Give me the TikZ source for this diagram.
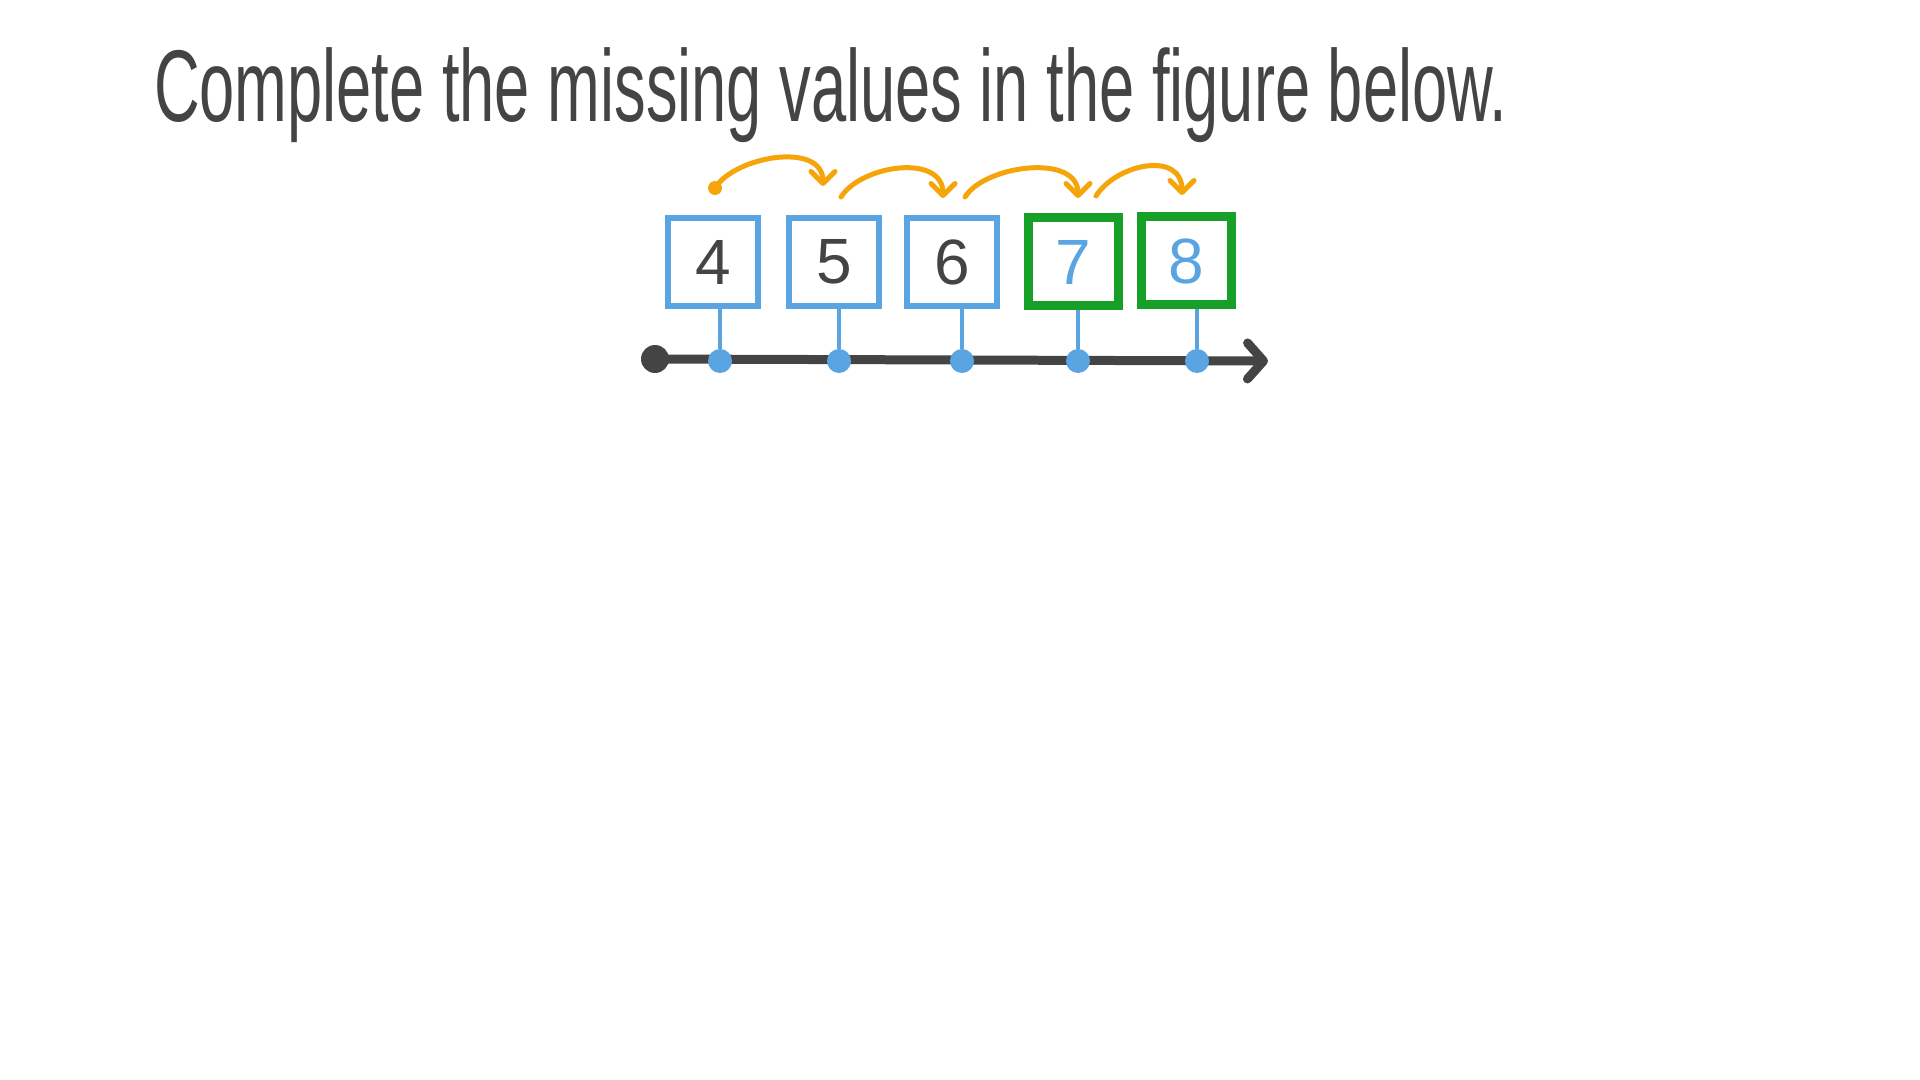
\documentclass[tikz,border=0pt]{standalone}
\usepackage{fontspec}
\setmainfont{Liberation Sans}
\usetikzlibrary{arrows.meta}
\definecolor{penblue}{RGB}{90,165,225}
\definecolor{pengreen}{RGB}{22,160,40}
\definecolor{penorange}{RGB}{245,165,10}
\definecolor{pengray}{RGB}{68,68,68}

\begin{document}
\begin{tikzpicture}[x=0.5pt,y=-0.5pt]
        \tikzstyle{every node}=[font=\fontsize{32}{38}\selectfont]
        \tikzstyle{numbox}=[draw=penblue,line width=3pt,minimum width=45pt,minimum height=44pt,inner sep=0pt,text=pengray]
        \tikzstyle{ansbox}=[numbox,draw=pengreen,line width=4.5pt,text=penblue]
        \tikzstyle{tick}=[circle,fill=penblue,minimum size=12pt,inner sep=0pt]
        \tikzstyle{hop}=[penorange,line width=2.5pt,line cap=round,-{Straight Barb[length=6pt,width=12pt,round]}]
        \useasboundingbox (0,0) rectangle (1920,1080);

        \node[anchor=base west,text=pengray,font=\fontsize{51}{60}\selectfont] (title) at (147,122)
            {\scalebox{0.62}[1]{Complete the missing values in the figure below.}};

        % boxes
        \node[numbox] (b4) at (713,262) {4};
        \node[numbox] (b5) at (834,262) {5};
        \node[numbox] (b6) at (952,262) {6};
        \node[ansbox] (b7) at (1073,262) {7};
        \node[ansbox] (b8) at (1186,261) {8};

        % number line
        \node[circle,fill=pengray,minimum size=14pt,inner sep=0pt] (origin) at (655,359) {};
        \coordinate (tip) at (1268,361);
        \draw[pengray,line width=4.5pt,-{Straight Barb[length=8pt,width=18pt,round]}] (origin.center) -- (tip);

        \foreach\n/\x in {4/720,5/839,6/962,7/1078,8/1197}{
            \node[tick] (d\n) at (\x,361) {};
            \draw[penblue,line width=2pt] (d\n) -- (d\n |- b\n.south);
        }

        % hops
        \foreach\n/\sx/\sy/\ex/\ey in {4/715/188/823/186,5/841/197/943/198,6/965/197/1078/198,7/1096/196/1182/195}{
            \coordinate (hs\n) at (\sx,\sy);
            \coordinate (he\n) at (\ex,\ey);
            \draw[hop] (hs\n) .. controls +(20,-32) and +(0,-45) .. (he\n);
        }
        \fill[penorange] (hs4) circle (3.5pt);
\end{tikzpicture}
\end{document}
